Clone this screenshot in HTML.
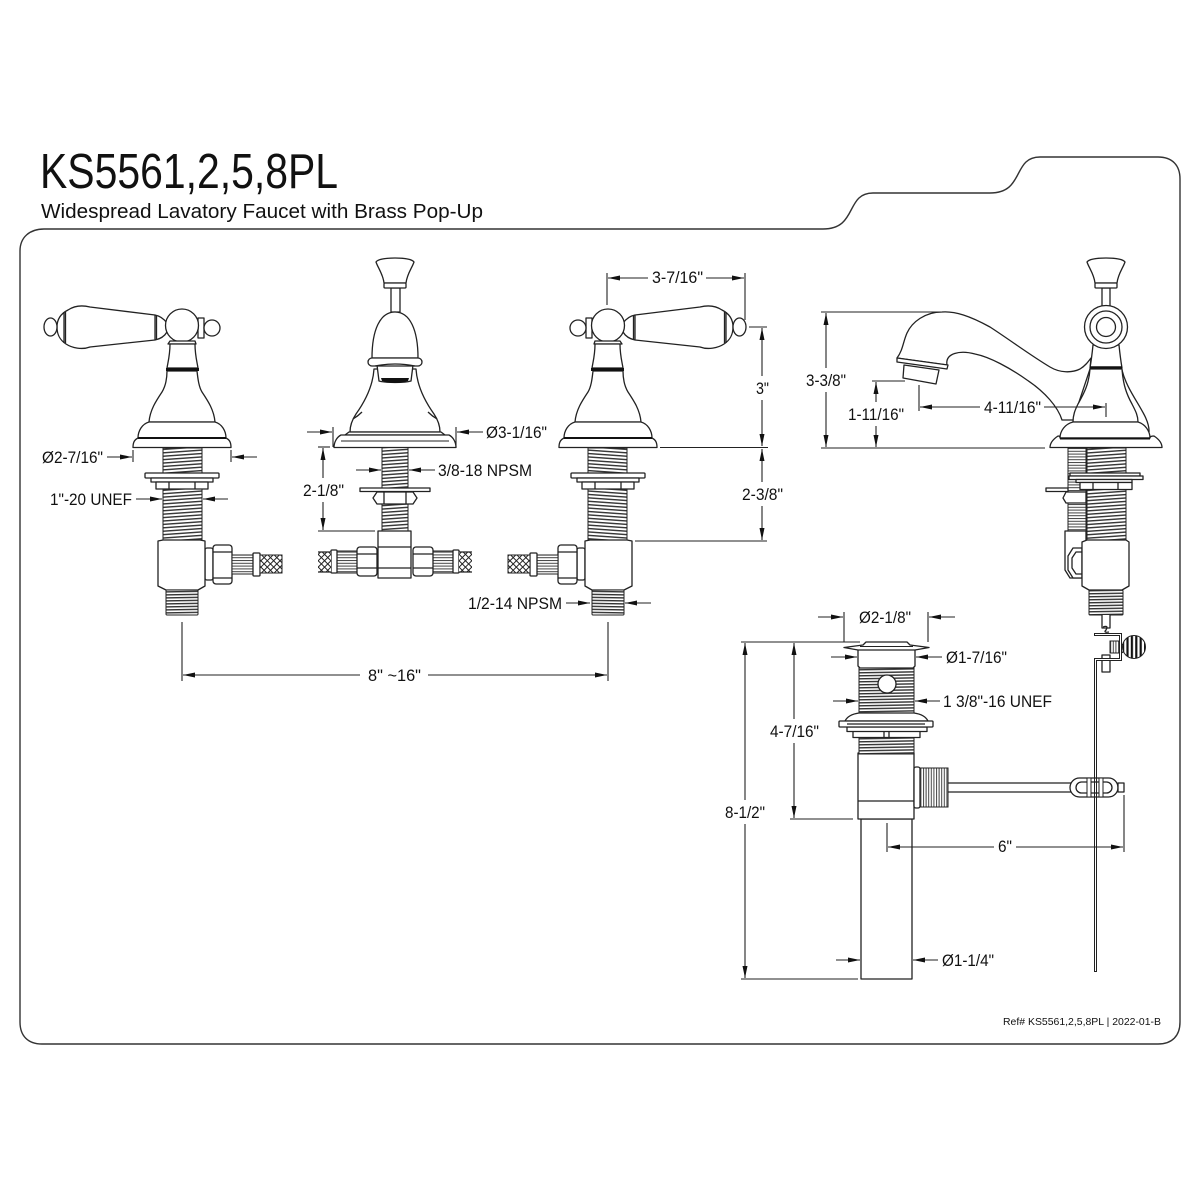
<!DOCTYPE html>
<html><head><meta charset="utf-8"><style>
html,body{margin:0;padding:0;background:#fff}
svg{display:block}
text{font-family:"Liberation Sans",sans-serif;fill:#111;font-size:17px}
.d line{stroke:#222;stroke-width:1.1}
.s{fill:#fff;stroke:#222;stroke-width:1.3;stroke-linejoin:round}
.n{fill:none;stroke:#222;stroke-width:1.3;stroke-linejoin:round}
</style></head><body>
<svg width="1200" height="1200" viewBox="0 0 1200 1200" xmlns="http://www.w3.org/2000/svg">
<defs>
<pattern id="th" patternUnits="userSpaceOnUse" width="60" height="3.4" patternTransform="rotate(-4)"><rect width="60" height="3.4" fill="#fff"/><rect width="60" height="1.4" fill="#333"/></pattern>
<pattern id="thf" patternUnits="userSpaceOnUse" width="60" height="3" patternTransform="rotate(-1)"><rect width="60" height="3" fill="#fff"/><rect width="60" height="1.4" fill="#333"/></pattern>
<pattern id="ver" patternUnits="userSpaceOnUse" width="2.6" height="10"><rect width="2.6" height="10" fill="#fff"/><rect width="1" height="10" fill="#444"/></pattern>
<pattern id="hz" patternUnits="userSpaceOnUse" width="10" height="2.8"><rect width="10" height="2.8" fill="#fff"/><rect width="10" height="1" fill="#444"/></pattern>
<pattern id="st" patternUnits="userSpaceOnUse" width="4.4" height="10"><rect width="4.4" height="10" fill="#fff"/><rect width="2.2" height="10" fill="#111"/></pattern>
<pattern id="br" patternUnits="userSpaceOnUse" width="4.5" height="4.5" patternTransform="rotate(45)"><rect width="4.5" height="4.5" fill="#fff"/><rect width="1" height="4.5" fill="#222"/><rect width="4.5" height="1" fill="#222"/></pattern>
<marker id="a" markerUnits="userSpaceOnUse" markerWidth="13" markerHeight="6" refX="12" refY="2.5" orient="auto"><path d="M0,0L12,2.5L0,5Z" fill="#111"/></marker>

<g id="fit">
<rect class="s" x="205" y="548" width="8" height="32" rx="2"/>
<rect class="s" x="213" y="545" width="19" height="39" rx="3"/>
<path class="n" d="M213,552H232M213,578H232"/>
<rect x="232" y="555" width="21" height="19" fill="url(#hz)" stroke="#222" stroke-width="1"/>
<rect class="s" x="253" y="553" width="7" height="23" rx="1"/>
<rect x="260" y="555" width="22" height="18" fill="url(#br)" stroke="#222" stroke-width="1"/>
</g>

<g id="faucet">
<rect x="163" y="448" width="39" height="92" fill="url(#th)" stroke="#222"/>
<rect class="s" x="145" y="473" width="74" height="5" rx="1"/>
<rect class="s" x="151" y="478" width="62" height="4"/>
<rect class="s" x="156" y="482" width="52" height="7"/>
<path class="n" d="M169,482V489M195,482V489"/>
<use href="#fit"/>
<path class="s" d="M163,540H200L205,541V586L198,590H166L158,586V541Z"/>
<rect x="166" y="590" width="32" height="25" rx="1" fill="url(#thf)" stroke="#222"/>
<path class="s" d="M57,327C57,318 62,313 68,310C74,306 82,305 90,307L155,315C160,316 164,319 167,323V332C164,337 160,339 155,340L90,347C82,350 72,348 66,344C60,340 57,335 57,327Z"/>
<path class="n" d="M64,312V343M65.5,312V343M155,315V340M156.5,315V340"/>
<ellipse class="s" cx="50.5" cy="327" rx="6.5" ry="9"/>
<rect class="s" x="198" y="318" width="6" height="20"/>
<circle class="s" cx="212" cy="328" r="8"/>
<circle class="s" cx="182" cy="325.5" r="16.5"/>
<path class="s" d="M170,341H195L196,344H168Z"/>
<path class="s" d="M170,344C170,355 168,362 167,368H198C197,362 195,355 195,344Z"/>
<path class="s" d="M167,371C167,380 165,387 162,392C156,401 150,410 149,422H215C214,410 208,401 202,392C199,387 198,380 197,371Z"/>
<path d="M166,369.5H199" stroke="#111" stroke-width="3"/>
<path class="s" d="M149,422H215C222,424 226,431 226,438H138C138,431 142,424 149,422Z"/>
<path class="s" d="M138,438H226C230,440 231,443 231,447.5H133C133,443 134,440 138,438Z"/>
<path d="M138,438H226" stroke="#111" stroke-width="2"/>
</g>

<g id="knob">
<path class="s" d="M-19,262C-17,259 -8,258 0,258C8,258 17,259 19,262C17,268 12,274 11,283H-11C-12,274 -17,268 -19,262Z"/>
<rect class="s" x="-11" y="283" width="22" height="5" rx="1"/>
</g>
</defs>

<rect width="1200" height="1200" fill="#fff"/>

<path d="M44,229H823C858,229 845,193 873,193H990C1025,193 1012,157 1040,157H1158C1172,157 1180,165 1180,179V1022C1180,1036 1172,1044 1158,1044H42C28,1044 20,1036 20,1022V251C20,237 30,229 44,229Z" fill="none" stroke="#333" stroke-width="1.4"/>

<text x="40" y="188" textLength="298" lengthAdjust="spacingAndGlyphs" style="font-size:49px">KS5561,2,5,8PL</text>
<text x="41" y="218" textLength="442" lengthAdjust="spacingAndGlyphs" style="font-size:20.5px">Widespread Lavatory Faucet with Brass Pop-Up</text>
<text x="1003" y="1025" textLength="158" lengthAdjust="spacingAndGlyphs" style="font-size:10.5px">Ref# KS5561,2,5,8PL | 2022-01-B</text>

<!-- faucets -->
<use href="#faucet"/>
<use href="#faucet" transform="translate(790,0) scale(-1,1)"/>

<!-- centre faucet -->
<g>
<rect x="382" y="447" width="26" height="84" fill="url(#th)" stroke="#222"/>
<rect class="s" x="360" y="488" width="70" height="3.5"/>
<path class="s" d="M377,492H413L417,498L413,504H377L373,498Z"/>
<path class="n" d="M384,492V504M406,492V504"/>
<g id="cf">
<rect x="337" y="551" width="20" height="22" fill="url(#hz)" stroke="#222"/>
<rect class="s" x="331" y="550" width="6" height="23" rx="1"/>
<rect x="318" y="552" width="13" height="20" fill="url(#br)"/>
<path class="n" d="M318,552H331M318,572H331"/>
<rect class="s" x="357" y="547" width="20" height="29" rx="3"/>
<path class="n" d="M357,554H377M357,568H377"/>
</g>
<use href="#cf" transform="translate(790,0) scale(-1,1)"/>
<rect class="s" x="378" y="531" width="33" height="47"/>
<path class="n" d="M378,547H411M378,568H411"/>
<path class="s" d="M374,369C373,385 366,400 356,414C352,420 350,426 350,432H440C440,426 438,420 434,414C424,400 417,385 416,369Z"/>
<path class="n" d="M353,419C358,416 360,414 362,412M437,419C432,416 430,414 428,412"/>
<path class="s" d="M349,432H441L445,435H345Z"/>
<path class="s" d="M341,435H449C453,437 456,442 456,447.5H334C334,442 337,437 341,435Z"/>
<path d="M341,441H449" stroke="#222" stroke-width="1"/>
<path class="s" d="M391,288H400V312H391Z"/>
<path class="s" d="M372,358C372,330 380,312 395,312C410,312 418,330 418,358Z"/>
<path class="s" d="M377,365H413L411,381C405,383 385,383 379,381Z"/>
<path d="M382,381Q395,385 408,381L409,378H381Z" fill="#111"/>
<rect class="s" x="368" y="358" width="54" height="8" rx="4"/>
<path class="n" d="M375,366Q395,362 415,366"/>
<use href="#knob" transform="translate(395,0)"/>
</g>

<!-- side faucet -->
<g>
<rect x="1068" y="448" width="18" height="84" fill="url(#hz)" stroke="#222"/>
<rect class="s" x="1046" y="488" width="22" height="3.5"/>
<path class="s" d="M1066,492H1086V503H1066L1063,498Z"/>
<path class="s" d="M1065,531H1086V578H1070L1065,570Z"/>
<path class="s" d="M1082,548H1073L1068,556V570L1073,578H1082Z"/>
<path class="n" d="M1082,552H1076L1072,558V568L1076,574H1082"/>
<rect x="1087" y="448" width="39" height="92" fill="url(#th)" stroke="#222"/>
<rect class="s" x="1070" y="473" width="70" height="3"/>
<rect class="s" x="1069" y="476" width="74" height="3.5"/>
<rect class="s" x="1076" y="479.5" width="56" height="3"/>
<rect class="s" x="1080" y="482.5" width="52" height="7"/>
<path class="n" d="M1093,482.5V489.5M1118,482.5V489.5"/>
<path class="s" d="M1087,540H1126L1129,542V586L1122,590H1089L1082,586V542Z"/>
<rect x="1089" y="590" width="34" height="25" rx="1" fill="url(#thf)" stroke="#222"/>
<path class="s" d="M1102,615V628H1110V615"/>
<path class="n" d="M1103,627Q1109,625 1106,630Q1103,633 1109,632"/>
<path class="s" d="M1102,655H1110V672H1102Z"/>
<rect x="1110" y="641" width="11" height="12" fill="url(#ver)" stroke="#222"/>
<path class="s" d="M1121,644L1125,646V651L1121,653Z"/>
<circle cx="1134" cy="647" r="11.5" fill="url(#st)" stroke="#222"/>
<path d="M1094,634.5H1120.5V659.5H1095.5V972" fill="none" stroke="#222" stroke-width="3"/>
<path d="M1095,634.5H1120.5V659.5H1095.5V971" fill="none" stroke="#fff" stroke-width="1"/>

<path class="s" d="M897,358C903,350 903,342 907,333C912,322 925,312 942,312C955,311 970,316 990,327C1010,340 1030,355 1050,367C1060,373 1072,373 1080,369C1085,366 1088,362 1091,358L1090,369L1073,420H1062C1058,407 1045,392 1027,380C1010,368 990,357 975,354C960,350 945,353 947,365Z"/>
<path class="s" d="M904,365L903,378L936,384L939,370Z"/>
<path class="s" d="M897,358L948,365L947,369L897,362Z"/>

<path class="s" d="M1102,288H1110V308H1102Z"/>
<path class="s" d="M1093,345H1119C1120,355 1121,362 1122,368H1090C1091,362 1092,355 1093,345Z"/>
<circle class="s" cx="1106" cy="327" r="21.5"/>
<circle class="n" cx="1106" cy="327" r="16"/>
<circle class="n" cx="1106" cy="327" r="9.5"/>
<path class="s" d="M1090,369C1089,385 1083,395 1078,404C1075,410 1073,415 1073,422H1138C1138,415 1135,410 1132,404C1127,395 1123,385 1122,369Z"/>
<path d="M1090,367.5H1122" stroke="#111" stroke-width="2.5"/>
<path class="n" d="M1122,370C1128,395 1150,415 1149,432"/>
<path class="s" d="M1073,422H1138C1145,424 1150,431 1150,438H1060C1060,431 1065,424 1073,422Z"/>
<path class="s" d="M1058,436C1052,440 1050,444 1050,447.5H1162C1162,444 1160,440 1154,436C1151,436 1150,437 1150,438H1060C1060,437 1060,436 1058,436Z"/>
<path d="M1060,438.5H1150" stroke="#111" stroke-width="2"/>
<use href="#knob" transform="translate(1106,0)"/>
</g>

<!-- drain -->
<g>
<rect x="861" y="819" width="51" height="160" class="s"/>
<rect x="858" y="753" width="56" height="66" class="s"/>
<path class="n" d="M858,801H914"/>
<rect x="859" y="737" width="55" height="17" fill="url(#thf)" stroke="#222"/>
<rect class="s" x="853" y="731" width="67" height="6.5"/>
<path class="n" d="M884,731V737M889,731V737"/>
<rect class="s" x="847" y="727" width="80" height="4.5"/>
<rect x="859" y="668" width="55" height="46" fill="url(#thf)" stroke="#222"/>
<circle class="s" cx="887" cy="684" r="9"/>
<path class="s" d="M859,713H914C921,714 926,717 928,721H845C847,717 852,714 859,713Z"/>
<rect class="s" x="839" y="721" width="94" height="6" rx="1"/>
<path class="n" d="M847,724H925"/>
<path class="s" d="M858,649H915V666L913,668H860L858,666Z"/>
<path class="s" d="M844,647.5L863,645L866,642H907L910,645L929,647.5L915,650H858Z"/>
<path d="M860,646.5H913" stroke="#222" stroke-width="1"/>
<rect class="s" x="914" y="767" width="6" height="41" rx="2"/>
<rect x="920" y="768" width="28" height="39" fill="url(#ver)" stroke="#222"/>
<path class="n" d="M948,783H1072M948,792H1072"/>
<rect class="s" x="1070" y="778" width="48" height="19" rx="9.5"/>
<rect class="s" x="1076" y="782" width="36" height="11" rx="5.5"/>
<rect class="s" x="1118" y="783" width="6" height="9"/>
<path class="s" d="M1087,778V797H1091V778ZM1099,778V797H1103V778Z" style="stroke-width:1"/>
<path d="M1094.5,775V800M1096.5,775V800" stroke="#222" stroke-width="1" fill="none"/>
</g>

<!-- dimensions -->
<g class="d">
<line x1="133" y1="450" x2="133" y2="462"/><line x1="231" y1="450" x2="231" y2="462"/>
<line x1="107" y1="457" x2="132" y2="457" marker-end="url(#a)"/>
<line x1="257" y1="457" x2="232" y2="457" marker-end="url(#a)"/>
<line x1="136" y1="499" x2="162" y2="499" marker-end="url(#a)"/>
<line x1="228" y1="499" x2="203" y2="499" marker-end="url(#a)"/>
<line x1="182" y1="622" x2="182" y2="681"/><line x1="608" y1="622" x2="608" y2="681"/>
<line x1="360" y1="675" x2="183" y2="675" marker-end="url(#a)"/>
<line x1="428" y1="675" x2="607" y2="675" marker-end="url(#a)"/>
<line x1="333" y1="427" x2="333" y2="447"/><line x1="456" y1="427" x2="456" y2="447"/>
<line x1="307" y1="432" x2="332" y2="432" marker-end="url(#a)"/>
<line x1="483" y1="432" x2="457" y2="432" marker-end="url(#a)"/>
<line x1="356" y1="470" x2="381" y2="470" marker-end="url(#a)"/>
<line x1="435" y1="470" x2="409" y2="470" marker-end="url(#a)"/>
<line x1="318" y1="447" x2="330" y2="447"/><line x1="318" y1="531" x2="375" y2="531"/>
<line x1="323" y1="478" x2="323" y2="448" marker-end="url(#a)"/>
<line x1="323" y1="502" x2="323" y2="530" marker-end="url(#a)"/>
<line x1="607" y1="273" x2="607" y2="305"/><line x1="745" y1="273" x2="745" y2="320"/>
<line x1="648" y1="278" x2="608" y2="278" marker-end="url(#a)"/>
<line x1="706" y1="278" x2="744" y2="278" marker-end="url(#a)"/>
<line x1="749" y1="327" x2="767" y2="327"/>
<line x1="660" y1="447.5" x2="768" y2="447.5"/>
<line x1="635" y1="541" x2="767" y2="541"/>
<line x1="762" y1="376" x2="762" y2="328" marker-end="url(#a)"/>
<line x1="762" y1="400" x2="762" y2="446" marker-end="url(#a)"/>
<line x1="762" y1="482" x2="762" y2="449" marker-end="url(#a)"/>
<line x1="762" y1="506" x2="762" y2="540" marker-end="url(#a)"/>
<line x1="566" y1="603" x2="590" y2="603" marker-end="url(#a)"/>
<line x1="651" y1="603" x2="625" y2="603" marker-end="url(#a)"/>
<line x1="821" y1="312" x2="945" y2="312"/>
<line x1="821" y1="448" x2="1045" y2="448"/>
<line x1="826" y1="368" x2="826" y2="313" marker-end="url(#a)"/>
<line x1="826" y1="392" x2="826" y2="447" marker-end="url(#a)"/>
<line x1="872" y1="381" x2="905" y2="381"/>
<line x1="876" y1="402" x2="876" y2="382" marker-end="url(#a)"/>
<line x1="876" y1="426" x2="876" y2="447" marker-end="url(#a)"/>
<line x1="919" y1="385" x2="919" y2="411"/>
<line x1="1106" y1="403" x2="1106" y2="417"/>
<line x1="980" y1="407" x2="920" y2="407" marker-end="url(#a)"/>
<line x1="1044" y1="407" x2="1105" y2="407" marker-end="url(#a)"/>
<line x1="844" y1="612" x2="844" y2="642"/><line x1="928" y1="612" x2="928" y2="642"/>
<line x1="818" y1="617" x2="843" y2="617" marker-end="url(#a)"/>
<line x1="955" y1="617" x2="929" y2="617" marker-end="url(#a)"/>
<line x1="741" y1="642" x2="860" y2="642"/>
<line x1="741" y1="979" x2="858" y2="979"/>
<line x1="790" y1="819" x2="853" y2="819"/>
<line x1="745" y1="800" x2="745" y2="643" marker-end="url(#a)"/>
<line x1="745" y1="824" x2="745" y2="978" marker-end="url(#a)"/>
<line x1="794" y1="719" x2="794" y2="643" marker-end="url(#a)"/>
<line x1="794" y1="743" x2="794" y2="818" marker-end="url(#a)"/>
<line x1="831" y1="657" x2="857" y2="657" marker-end="url(#a)"/>
<line x1="942" y1="657" x2="916" y2="657" marker-end="url(#a)"/>
<line x1="833" y1="701" x2="858" y2="701" marker-end="url(#a)"/>
<line x1="940" y1="701" x2="915" y2="701" marker-end="url(#a)"/>
<line x1="887" y1="823" x2="887" y2="852"/><line x1="1124" y1="795" x2="1124" y2="852"/>
<line x1="994" y1="847" x2="888" y2="847" marker-end="url(#a)"/>
<line x1="1016" y1="847" x2="1123" y2="847" marker-end="url(#a)"/>
<line x1="836" y1="960" x2="860" y2="960" marker-end="url(#a)"/>
<line x1="938" y1="960" x2="913" y2="960" marker-end="url(#a)"/>
</g>

<!-- labels -->
<g>
<text x="42" y="463" textLength="61" lengthAdjust="spacingAndGlyphs">Ø2-7/16"</text>
<text x="50" y="505" textLength="82" lengthAdjust="spacingAndGlyphs">1"-20 UNEF</text>
<text x="368" y="681" textLength="53" lengthAdjust="spacingAndGlyphs">8" ~16"</text>
<text x="486" y="438" textLength="61" lengthAdjust="spacingAndGlyphs">Ø3-1/16"</text>
<text x="438" y="476" textLength="94" lengthAdjust="spacingAndGlyphs">3/8-18 NPSM</text>
<text x="303" y="496" textLength="41" lengthAdjust="spacingAndGlyphs">2-1/8"</text>
<text x="468" y="609" textLength="94" lengthAdjust="spacingAndGlyphs">1/2-14 NPSM</text>
<text x="652" y="283" textLength="51" lengthAdjust="spacingAndGlyphs">3-7/16"</text>
<text x="756" y="394" textLength="13" lengthAdjust="spacingAndGlyphs">3"</text>
<text x="742" y="500" textLength="41" lengthAdjust="spacingAndGlyphs">2-3/8"</text>
<text x="806" y="386" textLength="40" lengthAdjust="spacingAndGlyphs">3-3/8"</text>
<text x="848" y="420" textLength="56" lengthAdjust="spacingAndGlyphs">1-11/16"</text>
<text x="984" y="413" textLength="57" lengthAdjust="spacingAndGlyphs">4-11/16"</text>
<text x="859" y="623" textLength="52" lengthAdjust="spacingAndGlyphs">Ø2-1/8"</text>
<text x="946" y="663" textLength="61" lengthAdjust="spacingAndGlyphs">Ø1-7/16"</text>
<text x="943" y="707" textLength="109" lengthAdjust="spacingAndGlyphs">1 3/8"-16 UNEF</text>
<text x="770" y="737" textLength="49" lengthAdjust="spacingAndGlyphs">4-7/16"</text>
<text x="725" y="818" textLength="40" lengthAdjust="spacingAndGlyphs">8-1/2"</text>
<text x="998" y="852" textLength="14" lengthAdjust="spacingAndGlyphs">6"</text>
<text x="942" y="966" textLength="52" lengthAdjust="spacingAndGlyphs">Ø1-1/4"</text>
</g>
</svg>
</body></html>
